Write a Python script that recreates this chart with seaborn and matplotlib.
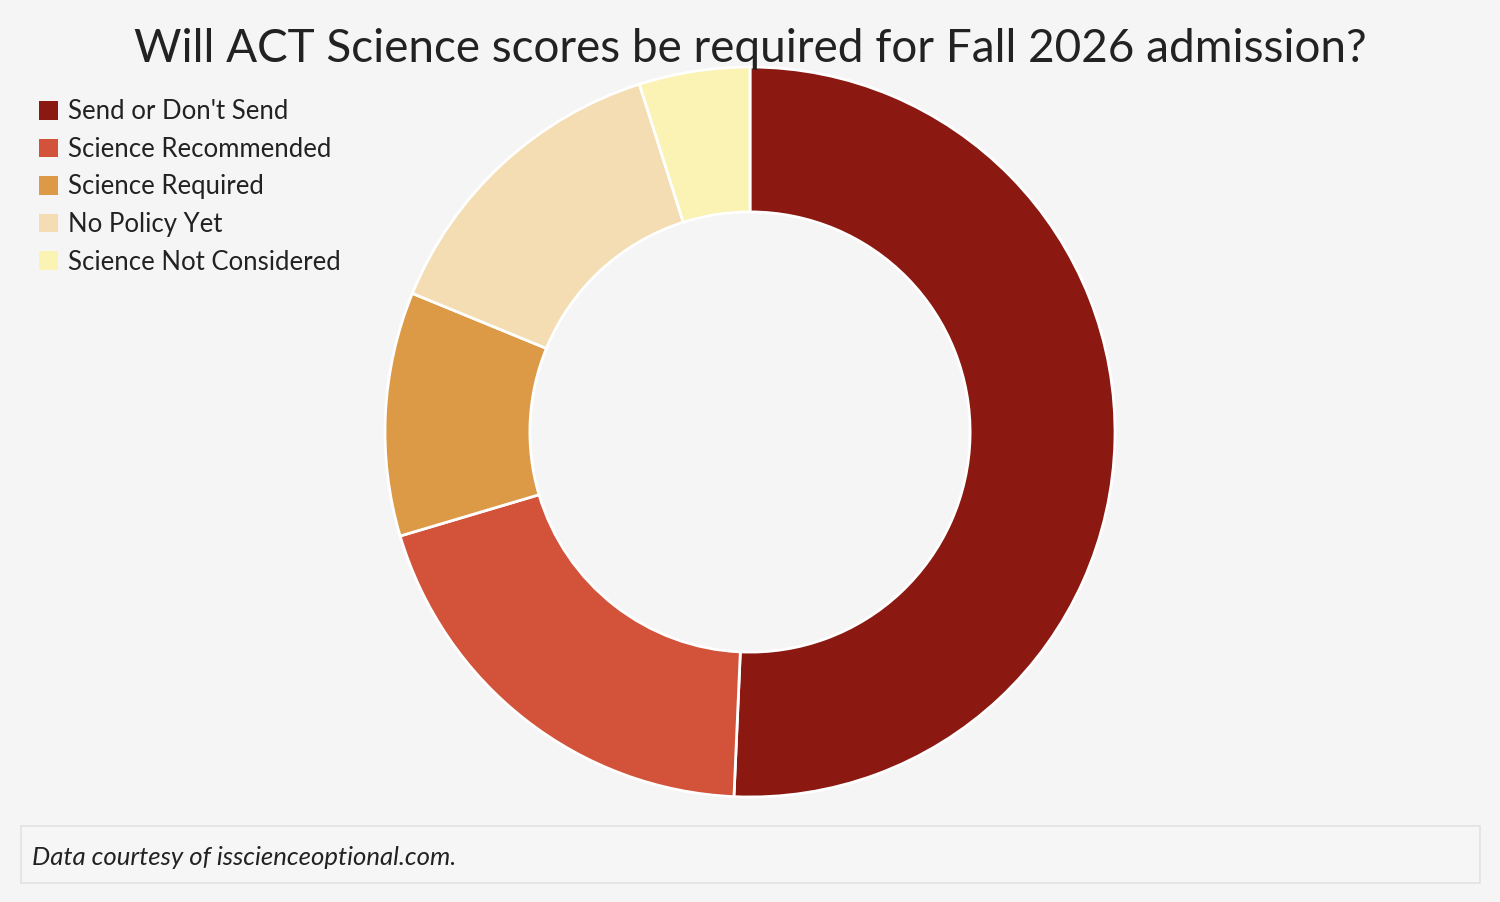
import matplotlib
matplotlib.use("Agg")
import matplotlib.pyplot as plt
from matplotlib.patches import Patch, Rectangle
import seaborn as sns

categories = ["Send or Don't Send", "Science Recommended", "Science Required",
              "No Policy Yet", "Science Not Considered"]
shares = [50.7, 19.7, 10.8, 13.9, 4.9]
colors = ["#8B1811", "#D2533A", "#DC9946", "#F4DDB2", "#FAF3B4"]
title = "Will ACT Science scores be required for Fall 2026 admission?"
footnote = "Data courtesy of isscienceoptional.com."

BG = "#F5F5F5"
sns.set_theme(style="white", rc={"figure.facecolor": BG, "axes.facecolor": BG})
plt.rcParams["font.family"] = ["Lato", "DejaVu Sans"]

W, H = 1500, 902
fig = plt.figure(figsize=(W / 100, H / 100), dpi=100)

cx, cy, R = 750, 432, 365
ax = fig.add_axes([(cx - R) / W, (H - cy - R) / H, 2 * R / W, 2 * R / H])
ax.pie(shares, colors=colors, startangle=90, counterclock=False, radius=1,
       wedgeprops=dict(width=0.397, edgecolor="white", linewidth=2))
ax.set_xlim(-1, 1)
ax.set_ylim(-1, 1)
ax.set_axis_off()

fig.text(0.5, 1 - 62 / H, title, ha="center", va="baseline",
         fontsize=33, color="#222222")

handles = [Patch(facecolor=c, edgecolor="none") for c in colors]
fig.legend(handles, categories, loc="upper left",
           bbox_to_anchor=(29 / W, 1 - 89 / H), frameon=False,
           fontsize=18.5, handlelength=0.74, handleheight=0.74,
           handletextpad=0.36, labelspacing=0.49, borderaxespad=0,
           labelcolor="#222222")

fig.patches.append(Rectangle((21 / W, (H - 883) / H), (1480 - 21) / W, 57 / H,
                             transform=fig.transFigure, facecolor="#F6F6F6",
                             edgecolor="#E2E2E2", linewidth=1.2, zorder=0))
fig.text(32 / W, 1 - 865 / H, footnote, ha="left", va="baseline",
         fontsize=18.5, style="italic", color="#222222")

fig.savefig("out.png", dpi=100, facecolor=BG)
